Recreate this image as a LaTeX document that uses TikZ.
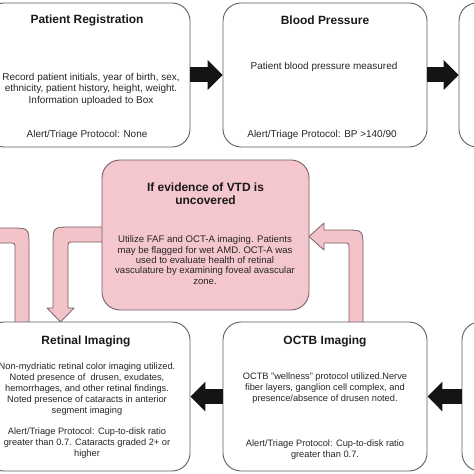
\documentclass[tikz,border=0pt]{standalone}
\usepackage{fontspec}
\setmainfont{Liberation Sans}
\usetikzlibrary{arrows.meta}
\definecolor{boxline}{HTML}{5E5E5E}
\definecolor{pinkfill}{HTML}{F4C6CD}
\definecolor{pinkline}{HTML}{7A5F63}
\definecolor{pinkarrow}{HTML}{F3C3CA}
\tikzset{
 stepbox/.style={draw=boxline, line width=0.9bp, fill=white, rounded corners=18bp, minimum width=204bp, minimum height=144bp, inner sep=0pt},
 vtdbox/.style={draw=pinkline, line width=0.9bp, fill=pinkfill, rounded corners=18bp, minimum width=207bp, minimum height=150bp, inner sep=0pt},
 ttl/.style={font=\bfseries\fontsize{12}{13.5}\selectfont, align=center, inner sep=0pt, text=black!90},
 bodyA/.style={font=\fontsize{10}{11.5}\selectfont, align=center, inner sep=0pt, text=black!85},
 bodyB/.style={font=\fontsize{9.6}{10.4}\selectfont, align=center, inner sep=0pt, text=black!85},
 bodyC/.style={font=\fontsize{9.3}{10.9}\selectfont, align=center, inner sep=0pt, text=black!85},
 blackarrow/.style={draw=black!92, line width=15bp, -{Triangle[length=15bp,width=29bp]}},
 pinkband/.style={fill=pinkarrow, draw=pinkline, line width=0.8bp, line join=round},
}
\begin{document}
\begin{tikzpicture}[x=1bp,y=-1bp]
\useasboundingbox (0,0) rectangle (474,474);
\clip (0,0) rectangle (474,474);
\fill[white] (0,0) rectangle (474,474);

% pink connectors (drawn below the boxes)
\draw[pinkband] (15,326) -- (15,249) .. controls (15,243) .. (9,243) -- (-10,243) -- (-10,228) -- (11,228) .. controls (29,228) .. (29,246) -- (29,326) -- cycle;
\draw[pinkband] (106,227) -- (71,227) .. controls (53,227) .. (53,245) -- (53,308) -- (47,308) -- (60.5,322) -- (74,308) -- (68,308) -- (68,248) .. controls (68,242) .. (74,242) -- (106,242) -- cycle;
\draw[pinkband] (349,326) -- (349,249) .. controls (349,243) .. (343,243) -- (324,243) -- (324,250) -- (309,236.5) -- (324,223) -- (324,230) -- (345,230) .. controls (363,230) .. (363,248) -- (363,326) -- cycle;

% boxes
\node[stepbox] (reg) at (88,75) {};
\node[stepbox] (bp) at (325,75) {};
\node[stepbox] (third) at (561,75) {};
\node[vtdbox] (vtd) at (205.5,235) {};
\node[stepbox, minimum height=149bp] (ret) at (88,396.5) {};
\node[stepbox, minimum height=149bp] (octb) at (325,396.5) {};
\node[stepbox, minimum height=149bp] (sixth) at (564,396.5) {};

% texts
\node[ttl] (regT) at (87,20) {Patient Registration};
\node[bodyA] (regB) at (91,89) {Record patient initials, year of birth, sex,\\ethnicity, patient history, height, weight.\\Information uploaded to Box};
\node[bodyA] (regA) at (87,135) {Alert/Triage Protocol: None};

\node[ttl] (bpT) at (325,20) {Blood Pressure};
\node[bodyA] (bpB) at (324,67) {Patient blood pressure measured};
\node[bodyA] (bpA) at (322,135) {Alert/Triage Protocol: BP >140/90};

\node[ttl] (vtdT) at (205.5,194) {If evidence of VTD is\\uncovered};
\node[bodyB] (vtdB) at (205,260) {Utilize FAF and OCT-A imaging. Patients\\may be flagged for wet AMD. OCT-A was\\used to evaluate health of retinal\\vasculature by examining foveal avascular\\zone.};

\node[ttl] (retT) at (86,341) {Retinal Imaging};
\node[bodyC] (retB) at (87,389) {Non-mydriatic retinal color imaging utilized.\\Noted presence of \ drusen, exudates,\\hemorrhages, and other retinal findings.\\Noted presence of cataracts in anterior\\segment imaging};
\node[bodyC] (retA) at (87,443) {Alert/Triage Protocol: Cup-to-disk ratio\\greater than 0.7. Cataracts graded 2+ or\\higher};

\node[ttl] (octbT) at (325,341) {OCTB Imaging};
\node[bodyC] (octbB) at (325,388) {OCTB "wellness" protocol utilized.Nerve\\fiber layers, ganglion cell complex, and\\presence/absence of drusen noted.};
\node[bodyC] (octbA) at (325,450) {Alert/Triage Protocol: Cup-to-disk ratio\\greater than 0.7.};

% black connectors
\draw[blackarrow] (reg.east) -- (bp.west);
\draw[blackarrow] (bp.east) -- (third.west);
\draw[blackarrow] (octb.west) -- (ret.east);
\draw[blackarrow] (sixth.west) -- (octb.east);
\end{tikzpicture}
\end{document}
